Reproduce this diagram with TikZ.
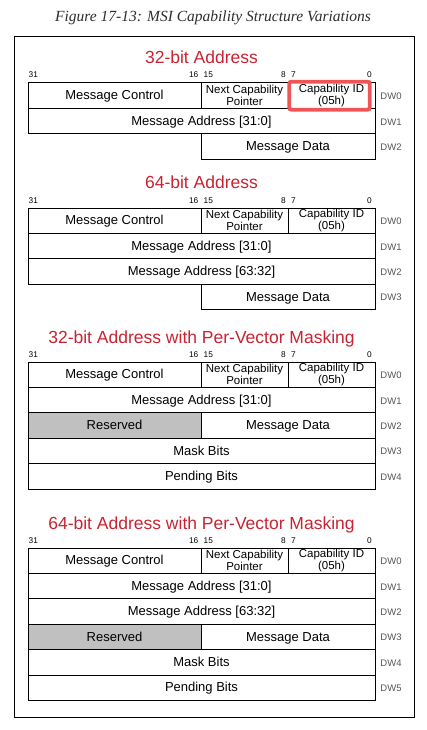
\documentclass[tikz,border=0pt]{standalone}
\usepackage{fontspec}
\setmainfont{Liberation Sans}
\newfontfamily\capfont{Liberation Serif}
\usetikzlibrary{positioning}

\definecolor{titlered}{RGB}{200,35,50}
\definecolor{hlred}{RGB}{240,85,85}
\definecolor{resgray}{RGB}{192,192,192}
\definecolor{dwgray}{RGB}{85,85,85}
\definecolor{capgray}{RGB}{45,45,45}

\begin{document}
\begin{tikzpicture}[x=1pt,y=-1pt,
  field/.style={draw,line width=1pt,inner sep=0pt,minimum height=25.4pt,anchor=center},
  cell/.style={field,font=\fontsize{13}{15}\selectfont,text height=9.3pt,text depth=1pt},
  twoline/.style={field,align=center,minimum width=87pt,font=\fontsize{11.5}{10}\selectfont},
  full/.style={cell,minimum width=347pt},
  lefthalf/.style={cell,minimum width=173pt},
  righthalf/.style={cell,minimum width=174pt},
  reserved/.style={lefthalf,fill=resgray},
  bitnum/.style={font=\fontsize{8.3}{8}\selectfont,inner sep=0pt},
  dwlabel/.style={font=\fontsize{9.5}{10}\selectfont,text=dwgray,inner sep=0pt},
  sectitle/.style={font=\fontsize{17.5}{18}\selectfont,text=titlered,inner sep=0pt,anchor=base}]
\useasboundingbox (0,0) rectangle (426,730);

% Caption and frame
\node[font={\capfont\itshape\fontsize{15.5}{16}\selectfont},text=capgray] (caption) at (213,18)
  {Figure 17-13: MSI Capability Structure Variations};
\draw[line width=1pt] (14,37) rectangle (414,717);

% Common header of every variation
\foreach \s/\t/\n/\ttl in {1/83/2/{32-bit Address},2/208/3/{64-bit Address},
    3/362/4/{32-bit Address with Per-Vector Masking},4/548/5/{64-bit Address with Per-Vector Masking}} {
  \node[sectitle] (title\s) at (201.5,\t-19) {\ttl};
  \node[bitnum,anchor=base west] (b31s\s) at (28.5,\t-5) {31};
  \node[bitnum,anchor=base east] (b16s\s) at (198.5,\t-5) {16};
  \node[bitnum,anchor=base west] (b15s\s) at (203.5,\t-5) {15};
  \node[bitnum,anchor=base east] (b8s\s) at (286,\t-5) {8};
  \node[bitnum,anchor=base west] (b7s\s) at (291,\t-5) {7};
  \node[bitnum,anchor=base east] (b0s\s) at (372,\t-5) {0};
  \node[lefthalf] (mc\s) at (114.5,\t+12.7) {Message Control};
  \node[twoline] (ncp\s) at (244.5,\t+12.7) {Next Capability\\Pointer};
  \node[twoline] (cid\s) at (331.5,\t+12.7) {Capability ID\\(05h)};
  \foreach \k in {0,...,\n}
    \node[dwlabel] (dw\s\k) at (391,\t+13.5+25.4*\k) {DW\k};
}

% 32-bit Address
\node[full] (malo1) at (201.5,121.1) {Message Address [31:0]};
\node[righthalf] (md1) at (288,146.5) {Message Data};
\draw[hlred,line width=3.8pt,rounded corners=2pt]
  ([xshift=1.8pt,yshift=0.8pt]cid1.north west) rectangle ([xshift=-5.8pt,yshift=-0.8pt]cid1.south east);

% 64-bit Address
\node[full] (malo2) at (201.5,246.1) {Message Address [31:0]};
\node[full] (mahi2) at (201.5,271.5) {Message Address [63:32]};
\node[righthalf] (md2) at (288,296.9) {Message Data};

% 32-bit Address with Per-Vector Masking
\node[full] (malo3) at (201.5,400.1) {Message Address [31:0]};
\node[reserved] (rsv3) at (114.5,425.5) {Reserved};
\node[righthalf] (md3) at (288,425.5) {Message Data};
\node[full] (mask3) at (201.5,450.9) {Mask Bits};
\node[full] (pend3) at (201.5,476.3) {Pending Bits};

% 64-bit Address with Per-Vector Masking
\node[full] (malo4) at (201.5,586.1) {Message Address [31:0]};
\node[full] (mahi4) at (201.5,611.5) {Message Address [63:32]};
\node[reserved] (rsv4) at (114.5,636.9) {Reserved};
\node[righthalf] (md4) at (288,636.9) {Message Data};
\node[full] (mask4) at (201.5,662.3) {Mask Bits};
\node[full] (pend4) at (201.5,687.7) {Pending Bits};
\end{tikzpicture}
\end{document}
